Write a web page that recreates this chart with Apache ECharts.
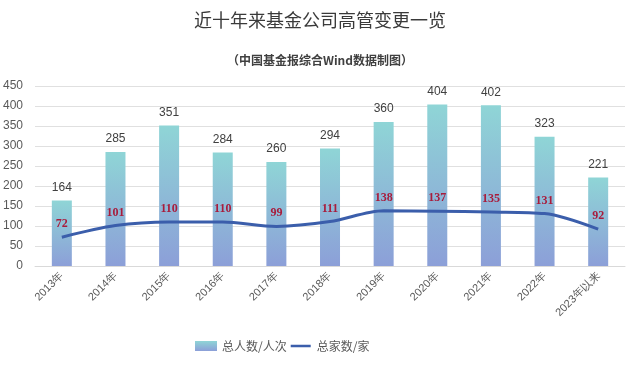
<!DOCTYPE html>
<html><head><meta charset="utf-8">
<script src="https://cdn.jsdelivr.net/npm/echarts@6/dist/echarts.min.js"></script>
<style>html,body{margin:0;padding:0;background:#fff}#c{width:640px;height:365px}</style>
</head><body><div id="c"></div>
<script>
var categories = ['2013年','2014年','2015年','2016年','2017年','2018年','2019年','2020年','2021年','2022年','2023年以来'];
var totalPeople = [164,285,351,284,260,294,360,404,402,323,221];
var totalCompanies = [72,101,110,110,99,111,138,137,135,131,92];
var yTicks = {min:0, max:450, interval:50};

var chart = echarts.init(document.getElementById('c'));
chart.setOption({
  backgroundColor:'#fff',
  animation:false,
  title:[
    {text:'近十年来基金公司高管变更一览', left:'center', top:6,
     textStyle:{fontFamily:'Noto Sans CJK SC', fontSize:18, fontWeight:'normal', color:'#3a3a3a'}},
    {text:'（中国基金报综合Wind数据制图）', left:'center', top:49,
     textStyle:{fontFamily:'Noto Sans CJK SC', fontSize:12, fontWeight:'bold', color:'#404040'}}
  ],
  legend:{
    left:190, top:335, itemGap:4, itemWidth:22, itemHeight:10,
    textStyle:{fontFamily:'Noto Sans CJK SC', fontSize:12, color:'#595959'},
    data:[{name:'总人数/人次', icon:'rect'},
          {name:'总家数/家', icon:'path://M0,0L0.01,0ZM0,4h22v3H0zM0,11L0.01,11Z'}]
  },
  grid:{left:35, right:15, top:86, bottom:99},
  xAxis:{
    type:'category', data:categories,
    axisLine:{lineStyle:{color:'#d9d9d9'}}, axisTick:{show:false},
    axisLabel:{rotate:45, fontSize:11, color:'#595959', fontFamily:'Liberation Sans', margin:8, interval:0}
  },
  yAxis:{
    type:'value', min:yTicks.min, max:yTicks.max, interval:yTicks.interval,
    axisLine:{show:false}, axisTick:{show:false},
    splitLine:{lineStyle:{color:'#e0e0e0'}},
    axisLabel:{fontSize:12, color:'#595959', fontFamily:'Liberation Sans', margin:12}
  },
  series:[
    {name:'总人数/人次', type:'bar', data:totalPeople, barWidth:20,
     itemStyle:{color:new echarts.graphic.LinearGradient(0,0,0,1,[{offset:0,color:'#8fd5d6'},{offset:1,color:'#8c9fd8'}])},
     label:{show:true, position:'top', distance:7, fontSize:12, color:'#404040', fontFamily:'Liberation Sans'}},
    {name:'总家数/家', type:'line', data:totalCompanies, smooth:0.3, symbol:'circle', symbolSize:0.1,
     lineStyle:{color:'#3b5eab', width:3}, itemStyle:{color:'#3b5eab'},
     label:{show:true, position:'top', distance:7, fontSize:12, fontWeight:'bold', color:'#a81c3c', fontFamily:'Liberation Serif'}}
  ]
});
</script></body></html>
